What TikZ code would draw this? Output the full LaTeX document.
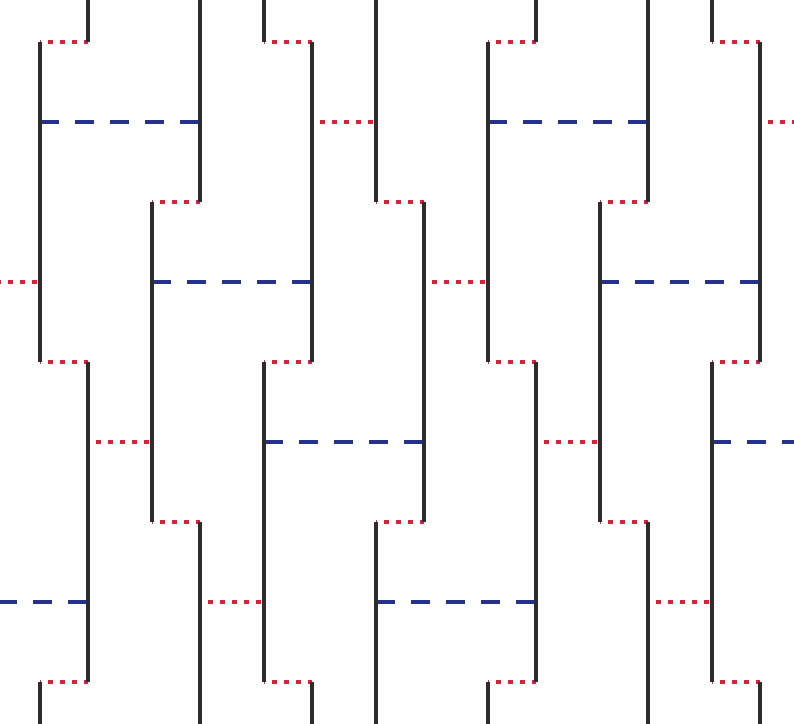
\documentclass[tikz,border=0pt]{standalone}
\usepackage{tikz}
\definecolor{wallgray}{RGB}{45,45,45}
\definecolor{linkred}{RGB}{225,30,58}
\definecolor{rungblue}{RGB}{38,50,138}

\begin{document}
\begin{tikzpicture}[x=1pt, y=-1pt,
    wall/.style={line width=3.2pt, wallgray},
    link/.style={line width=3.6pt, linkred, dash pattern=on 4.5pt off 7.5pt, dash phase=4pt},
    rung/.style={line width=3.4pt, rungblue, dash pattern=on 19pt off 16pt}]
  \useasboundingbox (0,0) rectangle (794,723);
  \clip (0,0) rectangle (794,723);
  \foreach \s in {-448,0,448} {
    \foreach \y in {42,362,682} {
      \draw[link] (\s+40,\y) -- (\s+88,\y);
      \draw[link] (\s+264,\y) -- (\s+312,\y);
    }
    \foreach \y in {202,522} {
      \draw[link] (\s+152,\y) -- (\s+200,\y);
      \draw[link] (\s+376,\y) -- (\s+424,\y);
    }
    \draw[rung] (\s+40,122) -- (\s+200,122);
    \draw[link] (\s+312,122) -- (\s+376,122);
    \draw[rung] (\s+152,282) -- (\s+312,282);
    \draw[link] (\s+424,282) -- (\s+488,282);
    \draw[link] (\s+88,442) -- (\s+152,442);
    \draw[rung] (\s+264,442) -- (\s+424,442);
    \draw[link] (\s+200,602) -- (\s+264,602);
    \draw[rung] (\s+376,602) -- (\s+536,602);
    \draw[wall] (\s+88,-5) -- (\s+88,42) (\s+40,42) -- (\s+40,362)
      (\s+88,362) -- (\s+88,682) (\s+40,682) -- (\s+40,728);
    \draw[wall] (\s+200,-5) -- (\s+200,202) (\s+152,202) -- (\s+152,522)
      (\s+200,522) -- (\s+200,728);
    \draw[wall] (\s+264,-5) -- (\s+264,42) (\s+312,42) -- (\s+312,362)
      (\s+264,362) -- (\s+264,682) (\s+312,682) -- (\s+312,728);
    \draw[wall] (\s+376,-5) -- (\s+376,202) (\s+424,202) -- (\s+424,522)
      (\s+376,522) -- (\s+376,728);
  }
\end{tikzpicture}
\end{document}
